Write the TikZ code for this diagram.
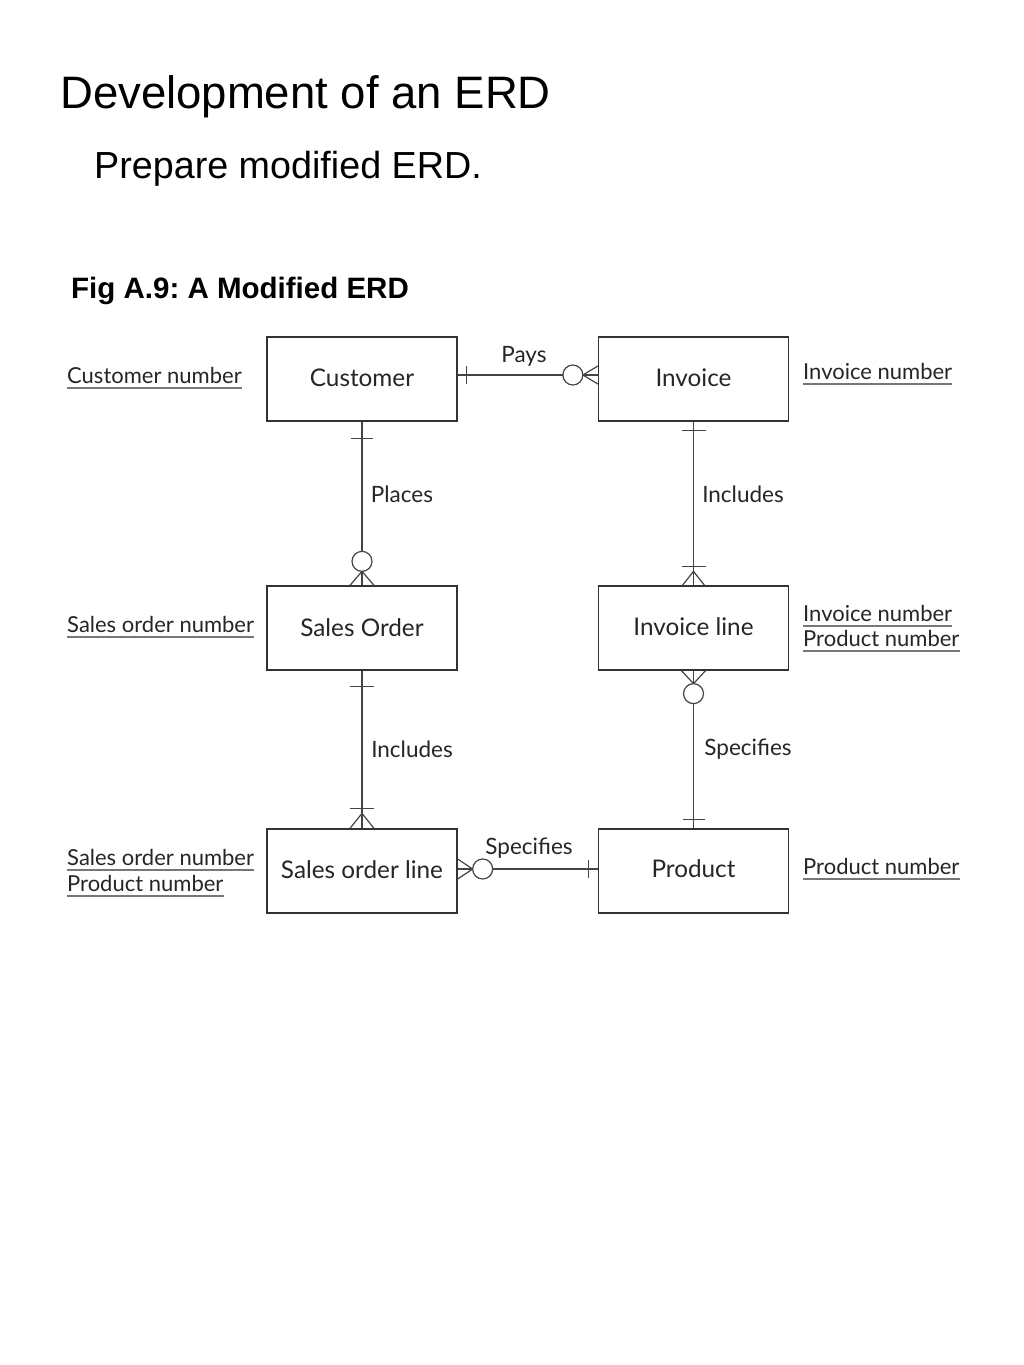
\documentclass[tikz,border=0pt]{standalone}
\usepackage{fontspec}
\setmainfont{Liberation Sans}
\newfontfamily\gill{Lato}
\usetikzlibrary{calc}
\frenchspacing
\definecolor{boxline}{HTML}{333333}
\definecolor{conline}{HTML}{444444}
\definecolor{ulcol}{HTML}{777777}
\tikzset{
  ent/.style={draw=boxline, line width=1.3pt, minimum width=190pt, minimum height=84pt, inner sep=0pt, font=\gill\fontsize{24.3}{27}\selectfont, text=black!85},
  con/.style={draw=conline, line width=1.2pt},
  rel/.style={font=\gill\fontsize{22.5}{25}\selectfont, text=black!85},
  attr/.style={font=\gill\fontsize{22}{24}\selectfont, text=black!85, anchor=base west, inner sep=0pt},
  ul/.style={draw=ulcol, line width=1.3pt}
}
\begin{document}
\begin{tikzpicture}[x=1pt,y=-1pt]
\useasboundingbox (0,0) rectangle (1024,1365);
\fill[white] (0,0) rectangle (1024,1365);
% titles
\node[anchor=base west, inner sep=0pt, font=\fontsize{45.5}{50}\selectfont] (t1) at (60,108) {Development of an ERD};
\node[anchor=base west, inner sep=0pt, font=\fontsize{37.7}{42}\selectfont] (t2) at (94,178) {Prepare modified ERD.};
\node[anchor=base west, inner sep=0pt, font=\bfseries\fontsize{29.5}{32}\selectfont] (t3) at (71,298) {Fig A.9: A Modified ERD};
% entities
\node[ent] (cust) at (362,379) {\raisebox{3pt}{Customer}};
\node[ent] (inv) at (693.5,379) {\raisebox{2pt}{Invoice}};
\node[ent] (so) at (362,628) {Sales Order};
\node[ent] (il) at (693.5,628) {\raisebox{3pt}{Invoice line}};
\node[ent] (sol) at (362,871) {\raisebox{3pt}{Sales order line}};
\node[ent] (prod) at (693.5,871) {\raisebox{4pt}{Product}};
% attributes
\node[attr] (a1) at (67,383) {Customer number};
\draw[ul] ($(a1.base west)+(0,5)$) -- ($(a1.base east)+(0,5)$);
\node[attr] (a2) at (803,379) {Invoice number};
\draw[ul] ($(a2.base west)+(0,5)$) -- ($(a2.base east)+(0,5)$);
\node[attr] (a3) at (67,632) {Sales order number};
\draw[ul] ($(a3.base west)+(0,5)$) -- ($(a3.base east)+(0,5)$);
\node[attr] (a4) at (803,621) {Invoice number};
\draw[ul] ($(a4.base west)+(0,5)$) -- ($(a4.base east)+(0,5)$);
\node[attr] (a5) at (803,646) {Product number};
\draw[ul] ($(a5.base west)+(0,5)$) -- ($(a5.base east)+(0,5)$);
\node[attr] (a6) at (67,865) {Sales order number};
\draw[ul] ($(a6.base west)+(0,5)$) -- ($(a6.base east)+(0,5)$);
\node[attr] (a7) at (67,891) {Product number};
\draw[ul] ($(a7.base west)+(0,5)$) -- ($(a7.base east)+(0,5)$);
\node[attr] (a8) at (803,874) {Product number};
\draw[ul] ($(a8.base west)+(0,5)$) -- ($(a8.base east)+(0,5)$);

% Pays: Customer -> Invoice (one to zero-or-many)
\coordinate (p1) at ($(cust.east)+(0,-4)$);
\coordinate (p2) at ($(inv.west)+(0,-4)$);
\draw[con] (p1) -- ($(p2)+(-35,0)$);
\draw[con] ($(p1)+(9,-9)$) -- ($(p1)+(9,9)$);
\draw[con] ($(p2)+(-25,0)$) circle (10);
\draw[con] ($(p2)+(-15,0)$) -- ($(p2)+(0,-9)$);
\draw[con] ($(p2)+(-15,0)$) -- ($(p2)+(0,9)$);
\draw[con] ($(p2)+(-15,0)$) -- (p2);
\node[rel] (lpays) at (524,356) {Pays};

% Places: Customer -> Sales Order
\draw[con] (cust.south) -- ($(so.north)+(0,-34)$);
\draw[con] ($(cust.south)+(-11,17)$) -- ($(cust.south)+(11,17)$);
\draw[con] ($(so.north)+(0,-24)$) circle (10);
\draw[con] ($(so.north)+(0,-14)$) -- ($(so.north)+(-12,0)$);
\draw[con] ($(so.north)+(0,-14)$) -- ($(so.north)+(12,0)$);
\draw[con] ($(so.north)+(0,-14)$) -- (so.north);
\node[rel] (lplaces) at (402,494) {Places};

% Includes: Invoice -> Invoice line
\draw[con] (inv.south) -- (il.north);
\draw[con] ($(inv.south)+(-12,9)$) -- ($(inv.south)+(12,9)$);
\draw[con] ($(il.north)+(-12,-19)$) -- ($(il.north)+(12,-19)$);
\draw[con] ($(il.north)+(0,-14)$) -- ($(il.north)+(-11,0)$);
\draw[con] ($(il.north)+(0,-14)$) -- ($(il.north)+(11,0)$);
\node[rel] (linc1) at (743,494) {Includes};

% Includes: Sales Order -> Sales order line
\draw[con] (so.south) -- (sol.north);
\draw[con] ($(so.south)+(-12,16)$) -- ($(so.south)+(12,16)$);
\draw[con] ($(sol.north)+(-12,-20)$) -- ($(sol.north)+(12,-20)$);
\draw[con] ($(sol.north)+(0,-15)$) -- ($(sol.north)+(-12,0)$);
\draw[con] ($(sol.north)+(0,-15)$) -- ($(sol.north)+(12,0)$);
\node[rel] (linc2) at (412,749) {Includes};

% Specifies: Product -> Invoice line
\draw[con] ($(il.south)+(0,33)$) -- (prod.north);
\draw[con] ($(il.south)+(0,23)$) circle (10);
\draw[con] ($(il.south)+(0,13)$) -- ($(il.south)+(-12,0)$);
\draw[con] ($(il.south)+(0,13)$) -- ($(il.south)+(12,0)$);
\draw[con] ($(il.south)+(0,13)$) -- (il.south);
\draw[con] ($(prod.north)+(-11,-9)$) -- ($(prod.north)+(11,-9)$);
\node[rel] (lspec1) at (748,749) {Specifies};

% Specifies: Product -> Sales order line
\coordinate (s1) at ($(sol.east)+(0,-2)$);
\coordinate (s2) at ($(prod.west)+(0,-2)$);
\draw[con] ($(s1)+(35,0)$) -- (s2);
\draw[con] ($(s1)+(25,0)$) circle (10);
\draw[con] ($(s1)+(15,0)$) -- ($(s1)+(0,-10)$);
\draw[con] ($(s1)+(15,0)$) -- ($(s1)+(0,10)$);
\draw[con] ($(s1)+(15,0)$) -- (s1);
\draw[con] ($(s2)+(-9,-9)$) -- ($(s2)+(-9,9)$);
\node[rel] (lspec2) at (529,848) {Specifies};
\end{tikzpicture}
\end{document}
